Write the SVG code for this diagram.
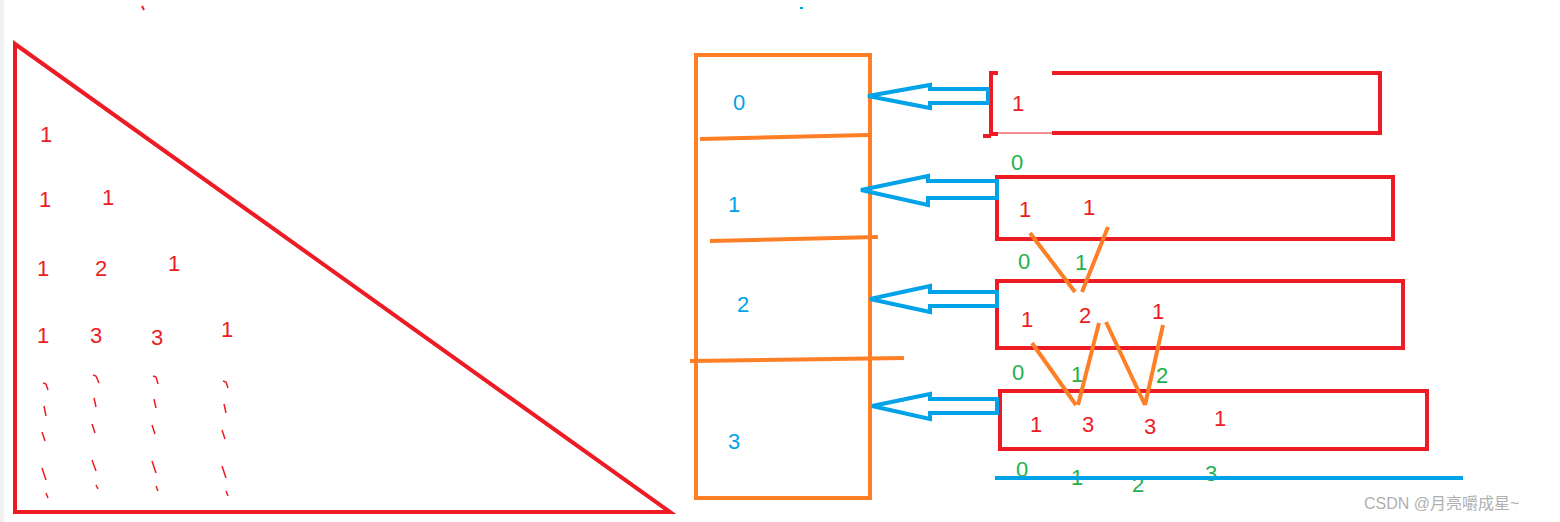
<svg xmlns="http://www.w3.org/2000/svg" width="1560" height="522" viewBox="0 0 1560 522">
<style>
.r{fill:none;stroke:#ed1c24;stroke-width:4}
.o{fill:none;stroke:#ff7f27;stroke-width:4}
.b{fill:none;stroke:#00a2e8;stroke-width:4;stroke-linejoin:miter}
.t{font-family:"Liberation Sans",Arial,sans-serif;font-size:22px}
.tr{fill:#ed1c24}.tb{fill:#00a2e8}.tg{fill:#22b14c}
.d{fill:none;stroke:#ed1c24;stroke-width:1.5}
</style>
<rect width="1560" height="522" fill="#fff"/>
<rect x="0" y="0" width="4" height="522" fill="#f0f0f0"/>
<g id="triangle">
<path class="r" d="M15,44 L670,512 L15,512 Z"/>
<g class="t tr">
<text x="40" y="142">1</text>
<text x="39" y="207">1</text><text x="102" y="205">1</text>
<text x="37" y="276">1</text><text x="95" y="276">2</text><text x="168" y="271">1</text>
<text x="37" y="343">1</text><text x="90" y="343">3</text><text x="151" y="345">3</text><text x="221" y="337">1</text>
</g>
<g class="d">
<path d="M43,383 l3,1 l2,6 M44,406 l2,10 M42,432 l3,9 M42,468 l4,12 M46,493 l2,5"/>
<path d="M93,375 l3,1 l3,7 M94,398 l2,9 M92,424 l3,9 M92,460 l4,11 M96,485 l2,4"/>
<path d="M153,376 l3,1 l2,7 M154,399 l2,9 M152,425 l3,9 M152,461 l4,12 M156,486 l2,5"/>
<path d="M223,381 l3,1 l2,6 M224,404 l2,9 M222,430 l3,9 M222,466 l4,12 M226,491 l2,5"/>
</g>
</g>
<g id="array">
<rect class="o" x="696" y="55" width="174" height="443"/>
<path class="o" d="M700,139 L868,135 M710,241 L878,237 M690,361 L904,358"/>
<g class="t tb">
<text x="733" y="110">0</text><text x="728" y="212">1</text><text x="737" y="312">2</text><text x="728" y="449">3</text>
</g>
</g>
<g id="row0">
<path class="r" d="M1052,73 L1380,73 L1380,133 L1052,133 M998,73 L991,73 L991,134 L998,134 M991,136 L983,136"/>
<path d="M998,133 L1052,133" stroke="#ed1c24" stroke-width="1" fill="none"/>
<text class="t tr" x="1012" y="111">1</text>
</g>
<g id="row1">
<rect class="r" x="997" y="177" width="396" height="62"/>
<g class="t tr"><text x="1019" y="217">1</text><text x="1083" y="215">1</text></g>
</g>
<g id="row2">
<rect class="r" x="997" y="281" width="406" height="67"/>
<g class="t tr"><text x="1021" y="327">1</text><text x="1079" y="323">2</text><text x="1152" y="319">1</text></g>
</g>
<g id="row3">
<path class="r" d="M1268,391 L1427,391 L1427,449 L1000,449 L1000,391 L1268,391"/>
<g class="t tr"><text x="1030" y="432">1</text><text x="1082" y="432">3</text><text x="1144" y="434">3</text><text x="1214" y="426">1</text></g>
</g>
<g id="indices" class="t tg">
<text x="1011" y="170">0</text>
<text x="1018" y="269">0</text><text x="1075" y="270">1</text>
<text x="1012" y="380">0</text><text x="1071" y="382">1</text><text x="1156" y="383">2</text>
<text x="1016" y="477">0</text><text x="1071" y="485">1</text><text x="1132" y="492">2</text><text x="1205" y="481">3</text>
</g>
<g id="axis"><path class="b" d="M995,478 L1463,478"/></g>
<g id="connectors">
<path class="b" d="M868,96 L930,85 L930,89 L988,89 L988,103 L930,103 L930,108 Z"/>
<path class="b" d="M861,190 L928,176 L928,181 L997,181 L997,198 L928,198 L928,205 Z"/>
<path class="b" d="M870,299 L930,286 L930,292 L997,292 L997,306 L930,306 L930,312 Z"/>
<path class="b" d="M872,406 L930,394 L930,399 L997,399 L997,413 L930,413 L930,419 Z"/>
<path class="o" d="M1030,233 L1075,292 M1108,227 L1082,292 M1032,343 L1076,405 M1099,323 L1078,405 M1106,322 L1145,405 M1163,325 L1145,405"/>
</g>
<text x="1364" y="509" style="font-family:'Liberation Sans','Noto Sans CJK SC',sans-serif;font-size:16px;fill:#b0b0b0">CSDN @月亮嚼成星~</text>
<path d="M142,6 l2,4" stroke="#ed1c24" stroke-width="2"/>
<path d="M800,8 l3,0" stroke="#00a2e8" stroke-width="2"/>
</svg>
